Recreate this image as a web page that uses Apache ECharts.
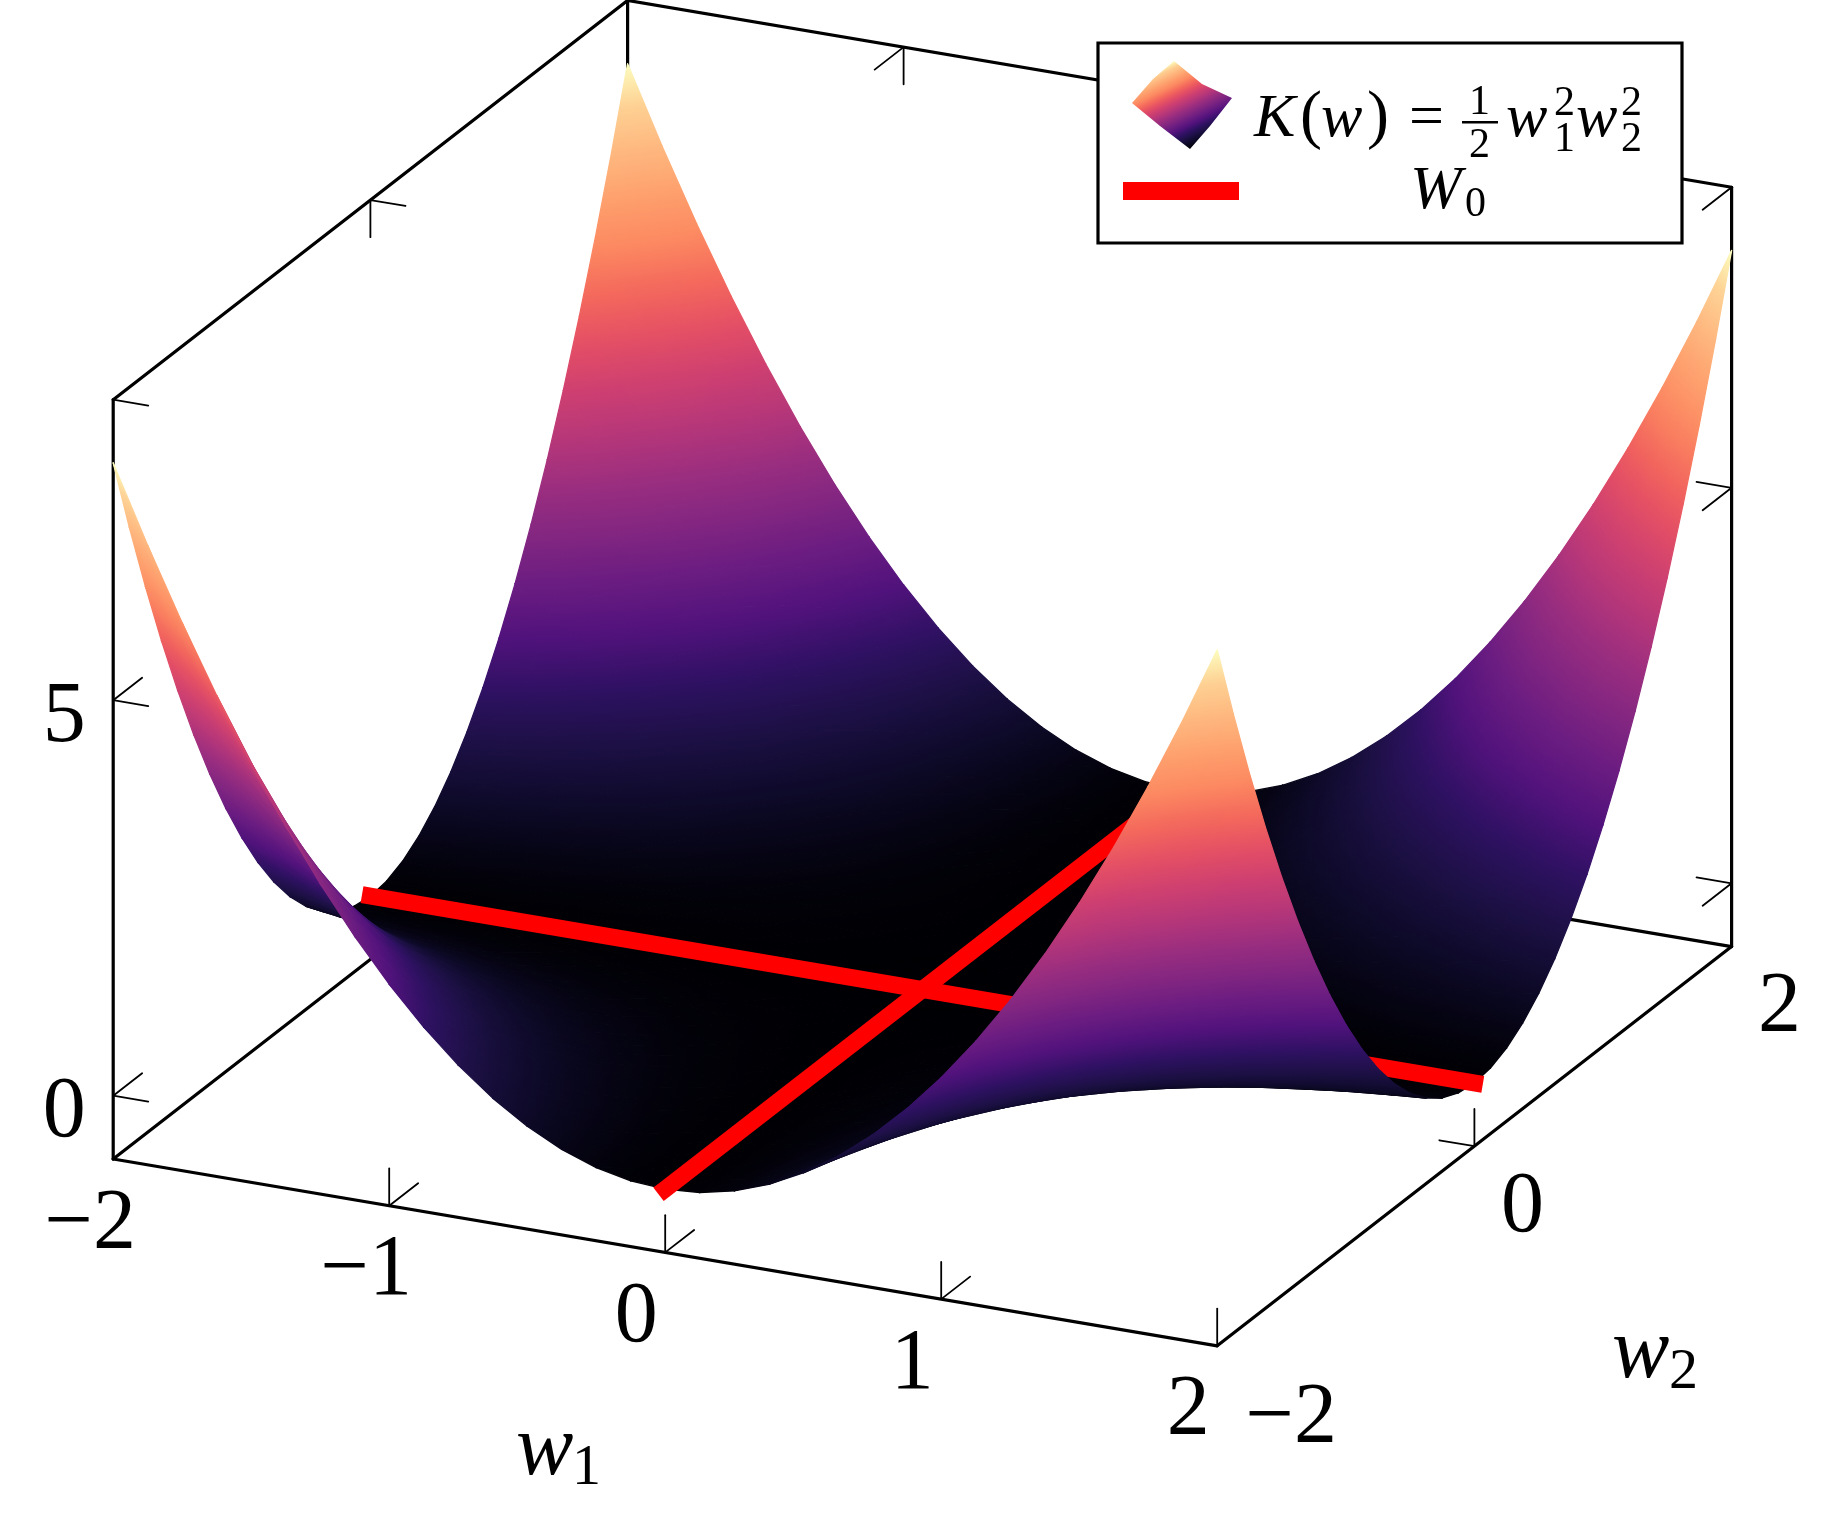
<!DOCTYPE html>
<html>
<head>
<meta charset="utf-8">
<title>K(w) surface</title>
<script src="https://cdn.jsdelivr.net/npm/echarts@6/dist/echarts.min.js"></script>
<style>
  html, body { margin: 0; background: #fff; }
  #main { width: 1830px; height: 1513px; }
</style>
</head>
<body>
<div id="main"></div>
<script>
// grid of the surface, same steps on both axes
const w1Grid = [-2,-1.875,-1.75,-1.625,-1.5,-1.375,-1.25,-1.125,-1,-0.875,-0.75,-0.625,-0.5,-0.375,-0.25,-0.125,0,0.125,0.25,0.375,0.5,0.625,0.75,0.875,1,1.125,1.25,1.375,1.5,1.625,1.75,1.875,2];
const w2Grid = [-2,-1.875,-1.75,-1.625,-1.5,-1.375,-1.25,-1.125,-1,-0.875,-0.75,-0.625,-0.5,-0.375,-0.25,-0.125,0,0.125,0.25,0.375,0.5,0.625,0.75,0.875,1,1.125,1.25,1.375,1.5,1.625,1.75,1.875,2];

// K(w) along w2 for one w1 (the rows are named after |w1|)
const row2000 = [8,7.031,6.125,5.281,4.5,3.781,3.125,2.531,2,1.531,1.125,0.781,0.5,0.281,0.125,0.031,0,0.031,0.125,0.281,0.5,0.781,1.125,1.531,2,2.531,3.125,3.781,4.5,5.281,6.125,7.031,8];
const row1875 = [7.031,6.18,5.383,4.642,3.955,3.323,2.747,2.225,1.758,1.346,0.989,0.687,0.439,0.247,0.11,0.027,0,0.027,0.11,0.247,0.439,0.687,0.989,1.346,1.758,2.225,2.747,3.323,3.955,4.642,5.383,6.18,7.031];
const row1750 = [6.125,5.383,4.689,4.043,3.445,2.895,2.393,1.938,1.531,1.172,0.861,0.598,0.383,0.215,0.096,0.024,0,0.024,0.096,0.215,0.383,0.598,0.861,1.172,1.531,1.938,2.393,2.895,3.445,4.043,4.689,5.383,6.125];
const row1625 = [5.281,4.642,4.043,3.486,2.971,2.496,2.063,1.671,1.32,1.011,0.743,0.516,0.33,0.186,0.083,0.021,0,0.021,0.083,0.186,0.33,0.516,0.743,1.011,1.32,1.671,2.063,2.496,2.971,3.486,4.043,4.642,5.281];
const row1500 = [4.5,3.955,3.445,2.971,2.531,2.127,1.758,1.424,1.125,0.861,0.633,0.439,0.281,0.158,0.07,0.018,0,0.018,0.07,0.158,0.281,0.439,0.633,0.861,1.125,1.424,1.758,2.127,2.531,2.971,3.445,3.955,4.5];
const row1375 = [3.781,3.323,2.895,2.496,2.127,1.787,1.477,1.196,0.945,0.724,0.532,0.369,0.236,0.133,0.059,0.015,0,0.015,0.059,0.133,0.236,0.369,0.532,0.724,0.945,1.196,1.477,1.787,2.127,2.496,2.895,3.323,3.781];
const row1250 = [3.125,2.747,2.393,2.063,1.758,1.477,1.221,0.989,0.781,0.598,0.439,0.305,0.195,0.11,0.049,0.012,0,0.012,0.049,0.11,0.195,0.305,0.439,0.598,0.781,0.989,1.221,1.477,1.758,2.063,2.393,2.747,3.125];
const row1125 = [2.531,2.225,1.938,1.671,1.424,1.196,0.989,0.801,0.633,0.484,0.356,0.247,0.158,0.089,0.04,0.01,0,0.01,0.04,0.089,0.158,0.247,0.356,0.484,0.633,0.801,0.989,1.196,1.424,1.671,1.938,2.225,2.531];
const row1000 = [2,1.758,1.531,1.32,1.125,0.945,0.781,0.633,0.5,0.383,0.281,0.195,0.125,0.07,0.031,0.008,0,0.008,0.031,0.07,0.125,0.195,0.281,0.383,0.5,0.633,0.781,0.945,1.125,1.32,1.531,1.758,2];
const row0875 = [1.531,1.346,1.172,1.011,0.861,0.724,0.598,0.484,0.383,0.293,0.215,0.15,0.096,0.054,0.024,0.006,0,0.006,0.024,0.054,0.096,0.15,0.215,0.293,0.383,0.484,0.598,0.724,0.861,1.011,1.172,1.346,1.531];
const row0750 = [1.125,0.989,0.861,0.743,0.633,0.532,0.439,0.356,0.281,0.215,0.158,0.11,0.07,0.04,0.018,0.004,0,0.004,0.018,0.04,0.07,0.11,0.158,0.215,0.281,0.356,0.439,0.532,0.633,0.743,0.861,0.989,1.125];
const row0625 = [0.781,0.687,0.598,0.516,0.439,0.369,0.305,0.247,0.195,0.15,0.11,0.076,0.049,0.027,0.012,0.003,0,0.003,0.012,0.027,0.049,0.076,0.11,0.15,0.195,0.247,0.305,0.369,0.439,0.516,0.598,0.687,0.781];
const row0500 = [0.5,0.439,0.383,0.33,0.281,0.236,0.195,0.158,0.125,0.096,0.07,0.049,0.031,0.018,0.008,0.002,0,0.002,0.008,0.018,0.031,0.049,0.07,0.096,0.125,0.158,0.195,0.236,0.281,0.33,0.383,0.439,0.5];
const row0375 = [0.281,0.247,0.215,0.186,0.158,0.133,0.11,0.089,0.07,0.054,0.04,0.027,0.018,0.01,0.004,0.001,0,0.001,0.004,0.01,0.018,0.027,0.04,0.054,0.07,0.089,0.11,0.133,0.158,0.186,0.215,0.247,0.281];
const row0250 = [0.125,0.11,0.096,0.083,0.07,0.059,0.049,0.04,0.031,0.024,0.018,0.012,0.008,0.004,0.002,0,0,0,0.002,0.004,0.008,0.012,0.018,0.024,0.031,0.04,0.049,0.059,0.07,0.083,0.096,0.11,0.125];
const row0125 = [0.031,0.027,0.024,0.021,0.018,0.015,0.012,0.01,0.008,0.006,0.004,0.003,0.002,0.001,0,0,0,0,0,0.001,0.002,0.003,0.004,0.006,0.008,0.01,0.012,0.015,0.018,0.021,0.024,0.027,0.031];
const row0000 = [0,0,0,0,0,0,0,0,0,0,0,0,0,0,0,0,0,0,0,0,0,0,0,0,0,0,0,0,0,0,0,0,0];
const surfaceZ = [row2000,row1875,row1750,row1625,row1500,row1375,row1250,row1125,row1000,row0875,row0750,row0625,row0500,row0375,row0250,row0125,row0000,row0125,row0250,row0375,row0500,row0625,row0750,row0875,row1000,row1125,row1250,row1375,row1500,row1625,row1750,row1875,row2000];

// W0: the two lines where K(w) = 0
const w0AlongW2 = [[0,-2,0],[0,2,0]];
const w0AlongW1 = [[-2,0,0],[2,0,0]];

// ticks
const w1Ticks = [-2,-1,0,1,2];
const w1TickLabels = ["\u22122","\u22121","0","1","2"];
const w2Ticks = [-2,0,2];
const w2TickLabels = ["\u22122","0","2"];
const zTicks = [0,5];
const zTickLabels = ["0","5"];
const zMin = -0.8;
const zMax = 8.8;

// magma, low to high
const magma = ["#000004","#0c0926","#1c1044","#2f1163","#51127c","#6a1c81","#832681","#9c2e7f","#b73779","#cf4070","#e55064","#f4695c","#fc8961","#fe9f6d","#feb77e","#fecf92","#fcfdbf"];
const colorMax = 8;

const SERIF = '"Liberation Serif"';

// the view: screen offset per unit of w1, w2 and z, in plane units
function project(w1, w2, z) {
  return [
    113.2 + (w1 + 2) * 276 + (w2 + 2) * 128.6,
    1159 + (w1 + 2) * 46.7 - (w2 + 2) * 99.8 - (z - zMin) * 79.1
  ];
}

function hexToRgb(h) {
  return [parseInt(h.slice(1, 3), 16), parseInt(h.slice(3, 5), 16), parseInt(h.slice(5, 7), 16)];
}
const magmaRgb = magma.map(hexToRgb);

function colorOf(z) {
  let t = Math.max(0, Math.min(1, z / colorMax)) * (magmaRgb.length - 1);
  let i = Math.min(Math.floor(t), magmaRgb.length - 2);
  let f = t - i;
  let a = magmaRgb[i], b = magmaRgb[i + 1];
  return "rgb(" + Math.round(a[0] + (b[0] - a[0]) * f) + "," + Math.round(a[1] + (b[1] - a[1]) * f) + "," + Math.round(a[2] + (b[2] - a[2]) * f) + ")";
}

// z is linear over a triangle, so the shading is a linear gradient along its screen slope
function triangleFill(p, z) {
  let zLo = Math.min(z[0], z[1], z[2]);
  let zHi = Math.max(z[0], z[1], z[2]);
  let ax = p[1][0] - p[0][0], ay = p[1][1] - p[0][1];
  let bx = p[2][0] - p[0][0], by = p[2][1] - p[0][1];
  let det = ax * by - ay * bx;
  if (zHi - zLo < 1e-4 || Math.abs(det) < 1e-3) return colorOf((zLo + zHi) / 2);
  let dz1 = z[1] - z[0], dz2 = z[2] - z[0];
  let gx = (dz1 * by - dz2 * ay) / det;
  let gy = (dz2 * ax - dz1 * bx) / det;
  let g2 = gx * gx + gy * gy;
  let stops = [];
  for (let s = 0; s <= 4; s++) {
    stops.push({ offset: s / 4, color: colorOf(zLo + (zHi - zLo) * s / 4) });
  }
  return new echarts.graphic.LinearGradient(
    p[0][0] + gx * (zLo - z[0]) / g2, p[0][1] + gy * (zLo - z[0]) / g2,
    p[0][0] + gx * (zHi - z[0]) / g2, p[0][1] + gy * (zHi - z[0]) / g2,
    stops, true
  );
}

// painter's order: far corner (w1 low, w2 high) first. Cells of the front peak
// go in a second layer so that they hide the W0 lines
const backCells = [];
const frontCells = [];
for (let j = w2Grid.length - 2; j >= 0; j--) {
  for (let i = 0; i < w1Grid.length - 1; i++) {
    let a = [w1Grid[i], w2Grid[j], surfaceZ[i][j]];
    let b = [w1Grid[i + 1], w2Grid[j], surfaceZ[i + 1][j]];
    let c = [w1Grid[i + 1], w2Grid[j + 1], surfaceZ[i + 1][j + 1]];
    let d = [w1Grid[i], w2Grid[j + 1], surfaceZ[i][j + 1]];
    let layer = (w1Grid[i] >= 1 && w2Grid[j + 1] <= -0.5) ? frontCells : backCells;
    layer.push(a.concat(c, d));
    layer.push(a.concat(b, c));
  }
}

function renderCell(params, api) {
  let pts = [], zs = [];
  for (let k = 0; k < 9; k += 3) {
    pts.push(api.coord(project(api.value(k), api.value(k + 1), api.value(k + 2))));
    zs.push(api.value(k + 2));
  }
  let fill = triangleFill(pts, zs);
  return {
    type: "polygon",
    shape: { points: pts },
    style: { fill: fill, stroke: fill, lineWidth: 1.3, lineJoin: "round" }
  };
}

function segment(api, from, to, width) {
  let p = api.coord(project(from[0], from[1], from[2]));
  let q = api.coord(project(to[0], to[1], to[2]));
  return {
    type: "line",
    shape: { x1: p[0], y1: p[1], x2: q[0], y2: q[1] },
    style: { stroke: "#000", lineWidth: width, lineCap: "round" }
  };
}

function tickText(api, text, at, dx, dy) {
  let p = api.coord(project(at[0], at[1], at[2]));
  return {
    type: "text",
    x: p[0] + dx,
    y: p[1] + dy,
    style: { text: text, font: "86px " + SERIF, fill: "#000", align: "center", verticalAlign: "middle" }
  };
}

// box edges, ticks and tick labels
function renderBox(params, api) {
  const edge = 3.2, tick = 1.8;
  const w1Len = 0.127, w2Len = 0.225, zLen = 0.47;
  let kids = [
    segment(api, [-2, -2, zMin], [2, -2, zMin], edge),
    segment(api, [2, -2, zMin], [2, 2, zMin], edge),
    segment(api, [-2, -2, zMin], [-2, 2, zMin], edge),
    segment(api, [-2, 2, zMin], [2, 2, zMin], edge),
    segment(api, [-2, -2, zMin], [-2, -2, zMax], edge),
    segment(api, [-2, 2, zMin], [-2, 2, zMax], edge),
    segment(api, [2, 2, zMin], [2, 2, zMax], edge),
    segment(api, [-2, -2, zMax], [-2, 2, zMax], edge),
    segment(api, [-2, 2, zMax], [2, 2, zMax], edge)
  ];
  w1Ticks.forEach(function (v, n) {
    if (v > -2) {
      kids.push(segment(api, [v, -2, zMin], [v, -2, zMin + zLen], tick));
      kids.push(segment(api, [v, 2, zMax], [v, 2, zMax - zLen], tick));
      kids.push(segment(api, [v, 2, zMax], [v, 2 - w2Len, zMax], tick));
    }
    if (v > -2 && v < 2) kids.push(segment(api, [v, -2, zMin], [v, -2 + w2Len, zMin], tick));
    kids.push(tickText(api, w1TickLabels[n], [v, -2, zMin], v < 0 ? -23 : -29, 66));
  });
  w2Ticks.forEach(function (v, n) {
    if (v === 0) {
      kids.push(segment(api, [2, v, zMin], [2, v, zMin + zLen], tick));
      kids.push(segment(api, [2, v, zMin], [2 - w1Len, v, zMin], tick));
      kids.push(segment(api, [-2, v, zMax], [-2, v, zMax - zLen], tick));
    }
    if (v < 2) kids.push(segment(api, [-2, v, zMax], [-2 + w1Len, v, zMax], tick));
    kids.push(tickText(api, w2TickLabels[n], [2, v, zMin], v === -2 ? 74 : 48, v === -2 ? 74 : 62));
  });
  zTicks.forEach(function (v, n) {
    kids.push(segment(api, [-2, -2, v], [-2 + w1Len, -2, v], tick));
    kids.push(segment(api, [-2, -2, v], [-2, -2 + w2Len, v], tick));
    kids.push(segment(api, [2, 2, v], [2 - w1Len, 2, v], tick));
    kids.push(segment(api, [2, 2, v], [2, 2 - w2Len, v], tick));
    kids.push(tickText(api, zTickLabels[n], [-2, -2, v], -49, 18));
  });
  return { type: "group", children: kids };
}

function renderW0(params, api) {
  let p = api.coord(project(api.value(0), api.value(1), api.value(2)));
  let q = api.coord(project(api.value(3), api.value(4), api.value(5)));
  return {
    type: "line",
    shape: { x1: p[0], y1: p[1], x2: q[0], y2: q[1] },
    style: { stroke: "#ff0000", lineWidth: 17, lineCap: "square" }
  };
}

// one piece of math text, placed by its baseline
function mathText(text, x, base, size, italic) {
  return {
    type: "text",
    x: x,
    y: base - size * 0.3,
    z: 21,
    silent: true,
    style: {
      text: text,
      font: (italic ? "italic " : "") + size + "px " + SERIF,
      fill: "#000",
      align: "left",
      verticalAlign: "middle"
    }
  };
}

const legendStops = magma.map(function (c, n) {
  return { offset: n / (magma.length - 1), color: c };
});

const graphicItems = [
  {
    type: "rect", z: 20, silent: true,
    shape: { x: 1098, y: 43, width: 584, height: 200 },
    style: { fill: "#fff", stroke: "#000", lineWidth: 3.2 }
  },
  {
    type: "polygon", z: 21, silent: true,
    shape: { points: [[1174,61],[1202,84],[1232,98],[1210,126],[1190,149],[1160,126],[1132,103],[1153,79]] },
    style: { fill: new echarts.graphic.LinearGradient(1190, 149, 1152, 72, legendStops, true) }
  },
  {
    type: "rect", z: 21, silent: true,
    shape: { x: 1123, y: 182, width: 116, height: 18 },
    style: { fill: "#ff0000" }
  },
  mathText("K", 1254, 138, 62, true),
  mathText("(", 1300, 138, 66, false),
  mathText("w", 1321, 138, 62, true),
  mathText(")", 1367, 138, 66, false),
  mathText("=", 1409, 138, 62, false),
  mathText("1", 1469, 116, 42, false),
  {
    type: "rect", z: 21, silent: true,
    shape: { x: 1462, y: 121, width: 36, height: 2.4 },
    style: { fill: "#000" }
  },
  mathText("2", 1469, 159, 42, false),
  mathText("w", 1506, 138, 62, true),
  mathText("2", 1554, 117, 42, false),
  mathText("1", 1554, 153, 42, false),
  mathText("w", 1576, 138, 62, true),
  mathText("2", 1621, 117, 42, false),
  mathText("2", 1621, 153, 42, false),
  mathText("W", 1410, 210, 62, true),
  mathText("0", 1465, 218, 42, false),
  mathText("w", 516, 1477, 86, true),
  mathText("1", 572, 1486, 58, false),
  mathText("w", 1612, 1380, 86, true),
  mathText("2", 1669, 1390, 58, false)
];

const myChart = echarts.init(document.getElementById("main"), null, { renderer: "canvas" });
const option = {
  animation: false,
  backgroundColor: "#fff",
  grid: { left: 0, top: 0, width: 1830, height: 1513 },
  xAxis: { type: "value", min: 0, max: 1830, show: false },
  yAxis: { type: "value", min: 0, max: 1513, inverse: true, show: false },
  graphic: { elements: graphicItems },
  series: [
    { name: "box", type: "custom", z: 1, silent: true, clip: false, data: [[0, 0]], renderItem: renderBox },
    { name: "K(w)", type: "custom", z: 2, silent: true, clip: false, progressive: 0, data: backCells, renderItem: renderCell },
    { name: "W0", type: "custom", z: 3, silent: true, clip: false, data: [w0AlongW1[0].concat(w0AlongW1[1]), w0AlongW2[0].concat(w0AlongW2[1])], renderItem: renderW0 },
    { name: "K(w) front", type: "custom", z: 4, silent: true, clip: false, progressive: 0, data: frontCells, renderItem: renderCell }
  ]
};
myChart.setOption(option);
window.onresize = function () {
  myChart.resize();
};
</script>
</body>
</html>
